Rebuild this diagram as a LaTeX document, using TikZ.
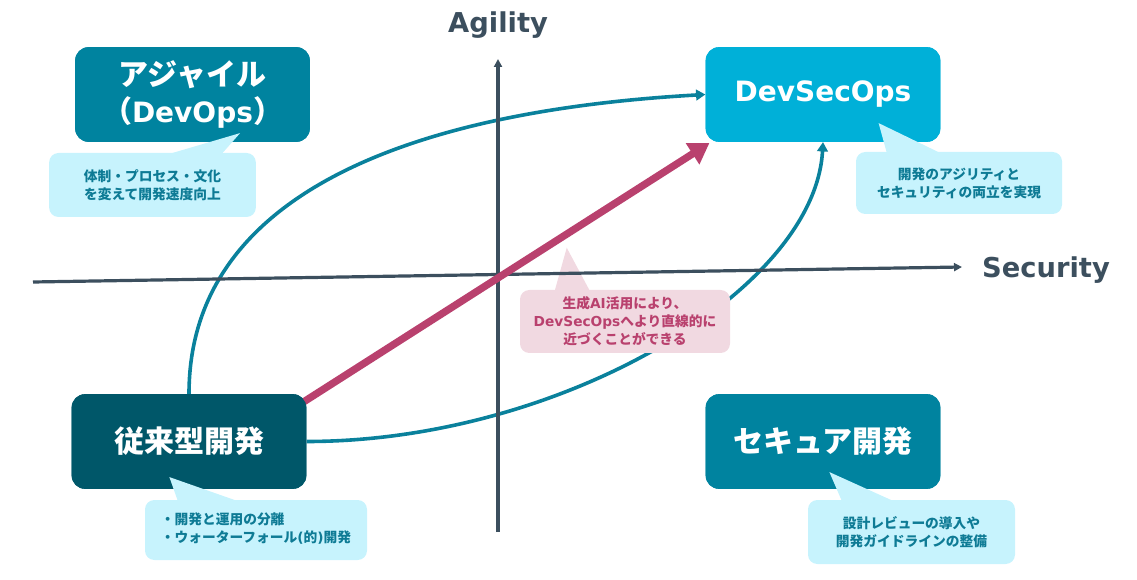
\documentclass[tikz,border=0pt]{standalone}
\usepackage{fontspec}
\setmainfont{Noto Sans CJK JP}
\newfontfamily\latinfont{DejaVu Sans}
\usetikzlibrary{arrows.meta,calc}
\definecolor{agilec}{HTML}{00839F}
\definecolor{dsoc}{HTML}{00B0D8}
\definecolor{tradc}{HTML}{005769}
\definecolor{notec}{HTML}{C7F3FD}
\definecolor{notetxt}{HTML}{0E7B95}
\definecolor{curvec}{HTML}{0A819C}
\definecolor{axisc}{HTML}{3C4F5E}
\definecolor{aic}{HTML}{B9416E}
\definecolor{aifill}{HTML}{F1D9E1}
\newcommand{\lt}[1]{{\latinfont\fontsize{21}{28}\selectfont #1}}
\newcommand{\ls}[1]{{\latinfont #1}}

\begin{document}
\begin{tikzpicture}[
  x=0.75pt, y=-0.75pt,
  quad/.style={rectangle, rounded corners=10pt, minimum width=176pt, minimum height=71pt,
               inner sep=0pt, text=white, align=center, font=\bfseries\fontsize{22.5}{28}\selectfont},
  note/.style={rectangle, rounded corners=7pt, fill=notec, text=notetxt, inner sep=0pt,
               align=center, font=\bfseries\fontsize{10.3}{13.5}\selectfont},
  ainote/.style={note, fill=aifill, text=aic},
  axis/.style={draw=axisc, line width=2.4pt, -{Triangle[length=6pt,width=6pt]}},
  route/.style={draw=curvec, line width=2.7pt, -{Triangle[length=7pt,width=8pt]}},
  aiarrow/.style={draw=aic, line width=5.5pt, -{Triangle[length=15pt,width=18pt]}},
  axlabel/.style={text=axisc, font=\latinfont\bfseries\fontsize{20.5}{24}\selectfont},
]
\useasboundingbox (0,0) rectangle (1137,580);

% ---- quadrant boxes (placed first, drawn later) ----
\path (192.5,94.5) node[quad, fill=agilec] (agile) {アジャイル\\（\lt{DevOps}）};
\path (823,94.5)   node[quad, fill=dsoc] (dso) {\lt{DevSecOps}};
\path (189,441.5)  node[quad, fill=tradc] (trad) {従来型開発};
\path (823,441.5)  node[quad, fill=agilec] (secure) {セキュア開発};

% ---- transition curves ----
\draw[route] (trad.north) .. controls +(0,-204) and +(-286,16) .. (dso.west);
\draw[route] (trad.east) .. controls +(254,0) and +(-8,148) .. (dso.south);

% ---- generative AI note ----
\node[ainote, minimum width=157.5pt, minimum height=47.25pt] (ai) at (625,321.5)
  {生成\ls{AI}活用により、\\\ls{DevSecOps}へより直線的に\\近づくことができる};
\coordinate (aitip) at ($(ai.north west)+(47,-42)$);
\fill[aifill] ($(ai.north west)+(35,1)$) -- (aitip) -- ($(ai.north west)+(70,1)$) -- cycle;

% ---- axes ----
\coordinate (ybot) at (498,532);
\coordinate (ytop) at (498,59);
\coordinate (xleft) at (33,282);
\coordinate (xright) at (962,267);
\draw[axis] (ybot) -- (ytop);
\draw[axis] (xleft) -- (xright);
\node[axlabel] (agility) at (498,25) {Agility};
\node[axlabel] (security) at (1046,270) {Security};

% ---- direct path ----
\draw[aiarrow] ($(trad.north east)+(-3,8)$) -- ($(dso.south west)+(4,1)$);

% ---- boxes on top ----
\node[quad, fill=agilec] at (agile) {アジャイル\\（\lt{DevOps}）};
\node[quad, fill=dsoc] at (dso) {\lt{DevSecOps}};
\node[quad, fill=tradc] at (trad) {従来型開発};
\node[quad, fill=agilec] at (secure) {セキュア開発};

% ---- callouts ----
\node[note, minimum width=155pt, minimum height=48pt] (agnote) at (152.5,185)
  {体制・プロセス・文化\\を変えて開発速度向上};
\coordinate (agtip) at ($(agile.south east)+(-70,-9)$);
\fill[notec] ($(agnote.north west)+(121,1)$) -- (agtip) -- ($(agnote.north west)+(173,1)$) -- cycle;

\node[note, minimum width=154.5pt, minimum height=46.5pt] (dsonote) at (959,183)
  {開発のアジリティと\\セキュリティの両立を実現};
\coordinate (dsotip) at ($(dso.south east)+(-62,-19)$);
\fill[notec] ($(dsonote.north west)+(31,1)$) -- (dsotip) -- ($(dsonote.north west)+(84,1)$) -- cycle;

\node[note, minimum width=166.5pt, minimum height=45pt] (tradnote) at (256,530)
  {\begin{tabular}{@{}l@{}}・開発と運用の分離\\・ウォーターフォール\ls{(}的\ls{)}開発\end{tabular}};
\coordinate (tradtip) at ($(trad.south west)+(98,-12)$);
\fill[notec] ($(tradnote.north west)+(33,1)$) -- (tradtip) -- ($(tradnote.north west)+(92,1)$) -- cycle;

\node[note, minimum width=155.25pt, minimum height=48pt] (secnote) at (911.5,532)
  {設計レビューの導入や\\開発ガイドラインの整備};
\coordinate (sectip) at ($(secure.south west)+(124,-17)$);
\fill[notec] ($(secnote.north west)+(34,1)$) -- (sectip) -- ($(secnote.north west)+(85,1)$) -- cycle;
\end{tikzpicture}
\end{document}
